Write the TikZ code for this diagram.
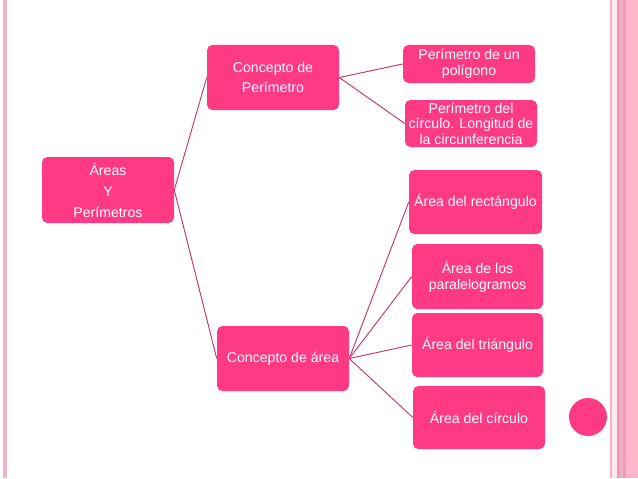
\documentclass[tikz,border=0pt]{standalone}
\usepackage{fontspec}
\setmainfont{Liberation Sans}
\definecolor{boxpink}{HTML}{FF3A85}
\definecolor{linepink}{HTML}{C0386C}
\definecolor{stripeA}{HTML}{F2B4CA}
\definecolor{stripeB}{HTML}{EE9CBA}
\definecolor{stripeC}{HTML}{F6AEC6}
\definecolor{stripeD}{HTML}{FFB6CB}
\definecolor{stripeE}{HTML}{FCEAF0}
\begin{document}
\begin{tikzpicture}[x=0.75pt,y=-0.75pt,
  box/.style={fill=boxpink, rounded corners=4pt, text=white, align=center,
    font=\fontsize{10.6}{12}\selectfont, inner sep=0pt, minimum width=99pt},
  link/.style={draw=linepink, line width=0.7pt}]
\useasboundingbox (0,0) rectangle (638,478);
\fill[white] (0,0) rectangle (638,478);
% left border stripe
\fill[stripeA] (3,0) rectangle (7,478);
% right border stripes
\fill[stripeA] (610,0) rectangle (612,478);
\fill[stripeE] (612,0) rectangle (617,478);
\fill[stripeB] (617,0) rectangle (620,478);
\fill[stripeC] (620,0) rectangle (623,478);
\fill[stripeB] (623,0) rectangle (626,478);
\fill[stripeD] (626,0) rectangle (638,478);
% decorative circle
\fill[boxpink] (588,417) circle (14.25pt);

\node[box, minimum height=49.5pt, font=\fontsize{10.6}{15.75}\selectfont] (ap) at (108,190) {Áreas\\Y\\Perímetros};
\node[box, minimum height=48.75pt, font=\fontsize{10.6}{15}\selectfont] (cp) at (273,77.5) {Concepto de\\Perímetro};
\node[box, minimum height=28.5pt] (pp) at (469,64) {Perímetro de un\\polígono};
\node[box, minimum height=35.25pt, font=\fontsize{10.6}{11.6}\selectfont] (pc) at (471,123.5) {Perímetro del\\círculo. Longitud de\\la circunferencia};
\node[box, minimum height=48pt, minimum width=99.75pt] (ar) at (475.5,202) {Área del rectángulo};
\node[box, minimum height=48.75pt, minimum width=98.25pt] (apar) at (477.5,276.5) {Área de los\\paralelogramos};
\node[box, minimum height=48pt, minimum width=98.25pt] (at) at (477.5,345) {Área del triángulo};
\node[box, minimum height=47.25pt] (ac) at (479,417.5) {Área del círculo};
\node[box, minimum height=48.75pt] (ca) at (283,358.5) {Concepto de área};

\draw[link] (ap.east) -- (cp.west);
\draw[link] (ap.east) -- (ca.west);
\draw[link] (cp.east) -- (pp.west);
\draw[link] (cp.east) -- (pc.west);
\draw[link] (ca.east) -- (ar.west);
\draw[link] (ca.east) -- (apar.west);
\draw[link] (ca.east) -- (at.west);
\draw[link] (ca.east) -- (ac.west);
\end{tikzpicture}
\end{document}
